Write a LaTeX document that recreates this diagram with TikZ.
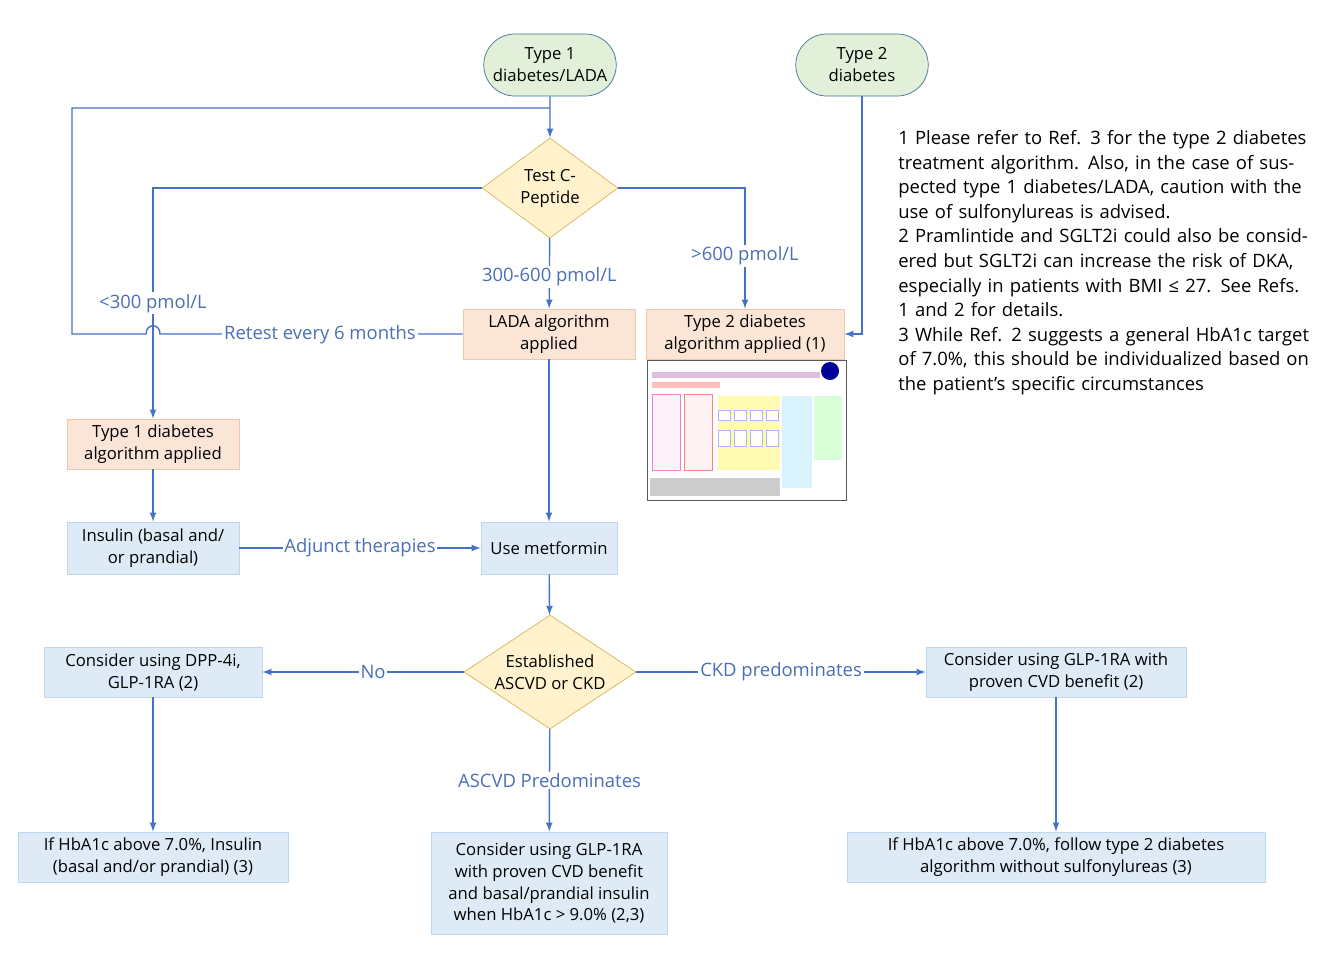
\documentclass[tikz,border=0pt]{standalone}
\usepackage{fontspec}
\setmainfont{Open Sans}
\usetikzlibrary{shapes.geometric,shapes.misc,positioning}
\definecolor{linec}{HTML}{4472C4}
\definecolor{labc}{HTML}{4A6FB5}
\definecolor{greenf}{HTML}{E2F0D9}
\definecolor{startb}{HTML}{41719C}
\definecolor{yellf}{HTML}{FFF2CC}
\definecolor{yellb}{HTML}{D6B656}
\definecolor{peachf}{HTML}{FBE5D6}
\definecolor{peachb}{HTML}{F4C7A8}
\definecolor{bluef}{HTML}{DEEBF7}
\definecolor{blueb}{HTML}{BDD7EE}
\begin{document}
\begin{tikzpicture}[
        x=0.02cm, y=-0.02cm,
        font=\fontsize{9.5}{12.5}\selectfont,
        start/.style={rounded rectangle, draw=startb, fill=greenf, minimum width=2.72cm, minimum height=1.24cm, align=center, inner sep=1pt},
        decision/.style={diamond, draw=yellb, fill=yellf, aspect=1.4, align=center, inner sep=0pt},
        algo/.style={rectangle, draw=peachb, fill=peachf, minimum height=1cm, align=center, inner sep=2pt},
        therapy/.style={rectangle, draw=blueb, fill=bluef, minimum height=1cm, align=center, inner sep=2pt},
        edge_label/.style={fill=white, text=labc, inner sep=1pt, font=\fontsize{10.5}{12}\selectfont},
        flow/.style={draw=linec, thick, -latex}
    ]
        \useasboundingbox (0,0) rectangle (1317,961);

        % Start nodes
        \node[start] (type1) at (550,65) {Type 1\\diabetes/LADA};
        \node[start] (type2) at (862,65) {Type 2\\diabetes};

        % C-peptide test and algorithms
        \node[decision, minimum width=2.72cm, minimum height=2cm] (test) at (550,188) {Test C-\\Peptide};
        \node[algo, minimum width=3.44cm] (lada) at (549,334) {LADA algorithm\\applied};
        \node[algo, minimum width=3.96cm] (type2alg) at (745,334) {Type 2 diabetes\\algorithm applied (1)};
        \node[algo, minimum width=3.44cm] (type1alg) at (153,444) {Type 1 diabetes\\algorithm applied};

        % Therapies
        \node[therapy, minimum width=3.44cm, minimum height=1.04cm] (insulin) at (153,548) {Insulin (basal and/\\or prandial)};
        \node[therapy, minimum width=2.72cm, minimum height=1.04cm] (metformin) at (549,548) {Use metformin};
        \node[decision, minimum width=3.44cm, minimum height=2cm] (ascvd) at (550,672) {Established\\ASCVD or CKD};
        \node[therapy, minimum width=4.36cm] (dpp) at (153,672) {Consider using DPP-4i,\\GLP-1RA (2)};
        \node[therapy, minimum width=5.2cm] (glpckd) at (1056,672) {Consider using GLP-1RA with\\proven CVD benefit (2)};
        \node[therapy, minimum width=5.4cm] (hbleft) at (153,857) {If HbA1c above 7.0\%, Insulin\\(basal and/or prandial) (3)};
        \node[therapy, minimum width=4.72cm, minimum height=2.04cm] (glpascvd) at (549,883) {Consider using GLP-1RA\\with proven CVD benefit\\and basal/prandial insulin\\when HbA1c > 9.0\% (2,3)};
        \node[therapy, minimum width=8.36cm] (hbright) at (1056,857) {If HbA1c above 7.0\%, follow type 2 diabetes\\algorithm without sulfonylureas (3)};

        % Connectors
        \draw[flow] (type1) -- (test);
        \draw[draw=linec, thick] (lada.west) -- (160,334) .. controls (160,323) and (146,323) .. (146,334) -- (72,334) |- (550,108);
        \node[edge_label] (retest) at (320,335) {Retest every 6 months};
        \draw[flow] (test.west) -| (type1alg.north) node[edge_label, pos=0.75] {<300 pmol/L};
        \draw[flow] (test) -- (lada) node[edge_label, pos=0.55] {300-600 pmol/L};
        \draw[flow] (test.east) -| (type2alg.north) node[edge_label, pos=0.78] {>600 pmol/L};
        \draw[flow] (type2) |- (type2alg.east);
        \draw[flow] (type1alg) -- (insulin);
        \draw[flow] (insulin) -- (metformin) node[edge_label, midway] {Adjunct therapies};
        \draw[flow] (lada) -- (metformin);
        \draw[flow] (metformin) -- (ascvd);
        \draw[flow] (ascvd) -- (dpp) node[edge_label, pos=0.45] {No};
        \draw[flow] (ascvd) -- (glpckd) node[edge_label, pos=0.5] {CKD predominates};
        \draw[flow] (ascvd) -- (glpascvd) node[edge_label, pos=0.5] {ASCVD Predominates};
        \draw[flow] (dpp) -- (hbleft);
        \draw[flow] (glpckd) -- (hbright);

        % Thumbnail of the type 2 algorithm
        \draw[gray!70!black, fill=white] (647,360) rectangle (846,500);
        \fill[violet!25] (652,372) rectangle (820,378);
        \fill[red!25] (652,382) rectangle (720,388);
        \draw[magenta!50, fill=magenta!5] (652,394) rectangle (680,470);
        \draw[red!50, fill=red!5] (684,394) rectangle (712,470);
        \fill[yellow!30] (718,396) rectangle (780,470);
        \fill[cyan!15] (782,396) rectangle (812,488);
        \fill[green!15] (814,396) rectangle (842,460);
        \fill[blue!60!black] (830,371) circle (9);
        \foreach \xx in {724,740,756,772} {
            \draw[blue!30, fill=white] (\xx-6,410) rectangle (\xx+6,420);
            \draw[blue!30, fill=white] (\xx-6,430) rectangle (\xx+6,446);
        }
        \fill[gray!40] (650,478) rectangle (780,496);

        % Footnotes
        \node[anchor=north west, text width=8.3cm, align=left, inner sep=0pt, font=\fontsize{10.5}{14}\selectfont] (notes) at (898,130)
            {1 Please refer to Ref. 3 for the type 2 diabetes treatment algorithm. Also, in the case of suspected type 1 diabetes/LADA, caution with the use of sulfonylureas is advised.\\
             2 Pramlintide and SGLT2i could also be considered but SGLT2i can increase the risk of DKA, especially in patients with BMI ≤ 27. See Refs. 1 and 2 for details.\\
             3 While Ref. 2 suggests a general HbA1c target of 7.0\%, this should be individualized based on the patient's specific circumstances};
    \end{tikzpicture}
\end{document}
